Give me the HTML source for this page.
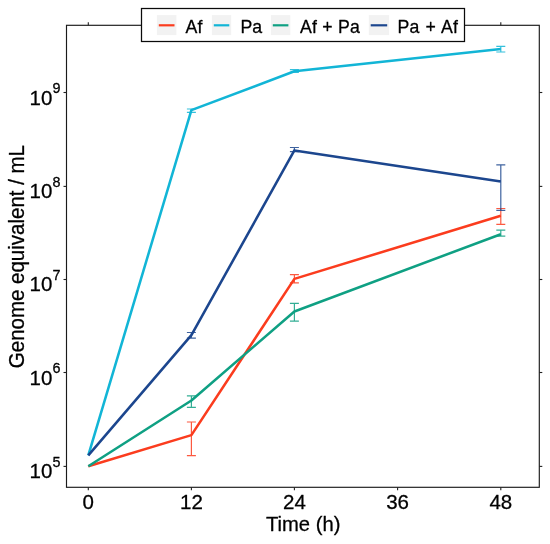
<!DOCTYPE html>
<html><head><meta charset="utf-8"><title>Chart</title>
<style>html,body{margin:0;padding:0;background:#fff}body{width:550px;height:544px;overflow:hidden}</style></head>
<body>
<svg width="550" height="544" viewBox="0 0 550 544" style="display:block">
<rect width="550" height="544" fill="#fff"/>
<rect x="66.5" y="25.3" width="472.8" height="462.0" fill="none" stroke="#1a1a1a" stroke-width="1.15"/>
<g stroke="#222" stroke-width="1.1">
<line x1="88.3" y1="487.3" x2="88.3" y2="490.3"/>
<line x1="88.3" y1="25.3" x2="88.3" y2="22.3"/>
<line x1="191.4" y1="487.3" x2="191.4" y2="490.3"/>
<line x1="191.4" y1="25.3" x2="191.4" y2="22.3"/>
<line x1="294.4" y1="487.3" x2="294.4" y2="490.3"/>
<line x1="294.4" y1="25.3" x2="294.4" y2="22.3"/>
<line x1="397.6" y1="487.3" x2="397.6" y2="490.3"/>
<line x1="397.6" y1="25.3" x2="397.6" y2="22.3"/>
<line x1="500.8" y1="487.3" x2="500.8" y2="490.3"/>
<line x1="500.8" y1="25.3" x2="500.8" y2="22.3"/>
<line x1="66.5" y1="466.4" x2="63.5" y2="466.4"/>
<line x1="539.3" y1="466.4" x2="542.3" y2="466.4"/>
<line x1="66.5" y1="372.5" x2="63.5" y2="372.5"/>
<line x1="539.3" y1="372.5" x2="542.3" y2="372.5"/>
<line x1="66.5" y1="279.5" x2="63.5" y2="279.5"/>
<line x1="539.3" y1="279.5" x2="542.3" y2="279.5"/>
<line x1="66.5" y1="186.4" x2="63.5" y2="186.4"/>
<line x1="539.3" y1="186.4" x2="542.3" y2="186.4"/>
<line x1="66.5" y1="92.5" x2="63.5" y2="92.5"/>
<line x1="539.3" y1="92.5" x2="542.3" y2="92.5"/>
</g>
<g stroke="#FB3C1E" stroke-width="1.2" stroke-opacity="0.85" fill="none">
<path d="M186.9 422.0H195.9M191.4 422.0V455.6M186.9 455.6H195.9"/>
<path d="M289.9 274.6H298.9M294.4 274.6V282.8M289.9 282.8H298.9"/>
<path d="M496.3 208.5H505.3M500.8 208.5V224.4M496.3 224.4H505.3"/>
</g>
<g stroke="#12B5D6" stroke-width="1.2" stroke-opacity="0.85" fill="none">
<path d="M186.9 109.0H195.9M191.4 109.0V112.3M186.9 112.3H195.9"/>
<path d="M289.9 69.6H298.9M294.4 69.6V72.3M289.9 72.3H298.9"/>
<path d="M496.3 46.3H505.3M500.8 46.3V52.0M496.3 52.0H505.3"/>
</g>
<g stroke="#0FA083" stroke-width="1.2" stroke-opacity="0.85" fill="none">
<path d="M186.9 395.8H195.9M191.4 395.8V407.3M186.9 407.3H195.9"/>
<path d="M289.9 303.3H298.9M294.4 303.3V321.2M289.9 321.2H298.9"/>
<path d="M496.3 230.2H505.3M500.8 230.2V236.2M496.3 236.2H505.3"/>
</g>
<g stroke="#1C468E" stroke-width="1.2" stroke-opacity="0.85" fill="none">
<path d="M186.9 332.5H195.9M191.4 332.5V338.2M186.9 338.2H195.9"/>
<path d="M289.9 147.5H298.9M294.4 147.5V151.7M289.9 151.7H298.9"/>
<path d="M496.3 164.8H505.3M500.8 164.8V210.3M496.3 210.3H505.3"/>
</g>
<polyline points="88.3,466.3 191.4,435.1 294.4,278.9 500.8,215.7" fill="none" stroke="#FB3C1E" stroke-width="2.55" stroke-linejoin="round"/>
<polyline points="88.3,455.4 191.4,110.1 294.4,71.3 500.8,49.0" fill="none" stroke="#12B5D6" stroke-width="2.55" stroke-linejoin="round"/>
<polyline points="88.3,466.3 191.4,400.5 294.4,311.5 500.8,234.2" fill="none" stroke="#0FA083" stroke-width="2.55" stroke-linejoin="round"/>
<polyline points="88.3,455.4 191.4,335.2 294.4,150.4 500.8,181.6" fill="none" stroke="#1C468E" stroke-width="2.55" stroke-linejoin="round"/>
<rect x="141.5" y="8.5" width="323.0" height="33.0" fill="#fff" stroke="#0a0a0a" stroke-width="1.25"/>
<rect x="156.9" y="15.1" width="19.5" height="20" fill="#f2f2f2"/>
<line x1="158.8" y1="25.3" x2="174.5" y2="25.3" stroke="#FB3C1E" stroke-width="2.2"/>
<rect x="211.9" y="15.1" width="19.3" height="20" fill="#f2f2f2"/>
<line x1="213.8" y1="25.3" x2="229.3" y2="25.3" stroke="#12B5D6" stroke-width="2.2"/>
<rect x="270.9" y="15.1" width="19.4" height="20" fill="#f2f2f2"/>
<line x1="272.8" y1="25.3" x2="288.4" y2="25.3" stroke="#0FA083" stroke-width="2.2"/>
<rect x="368.8" y="15.1" width="20.3" height="20" fill="#f2f2f2"/>
<line x1="370.7" y1="25.3" x2="387.2" y2="25.3" stroke="#1C468E" stroke-width="2.2"/>
<g font-family="&quot;Liberation Sans&quot;, sans-serif" fill="#000" stroke="#000" stroke-width="0.28" stroke-linejoin="round">
<g font-size="17.7">
<text x="185.4" y="32.7" word-spacing="0" letter-spacing="0.4">Af</text>
<text x="240.6" y="32.7" word-spacing="0" letter-spacing="-0.2">Pa</text>
<text x="300.1" y="32.7" word-spacing="0.3" letter-spacing="0.1">Af + Pa</text>
<text x="397.4" y="32.7" word-spacing="0.8" letter-spacing="0.25">Pa + Af</text>
</g>
<g font-size="20.5" text-anchor="middle">
<text x="88.3" y="509.0">0</text>
<text x="191.4" y="509.0">12</text>
<text x="294.4" y="509.0">24</text>
<text x="397.6" y="509.0">36</text>
<text x="500.8" y="509.0">48</text>
</g>
<text x="29.6" y="478.0" font-size="20.5">10</text>
<text x="52.6" y="466.7" font-size="14.35">5</text>
<text x="29.6" y="384.9" font-size="20.5">10</text>
<text x="52.6" y="373.3" font-size="14.35">6</text>
<text x="29.6" y="291.0" font-size="20.5">10</text>
<text x="52.6" y="279.9" font-size="14.35">7</text>
<text x="29.6" y="198.0" font-size="20.5">10</text>
<text x="52.6" y="187.0" font-size="14.35">8</text>
<text x="29.6" y="104.9" font-size="20.5">10</text>
<text x="52.6" y="93.3" font-size="14.35">9</text>
<text x="303.2" y="531.0" font-size="20.2" text-anchor="middle">Time (h)</text>
<text transform="translate(24.0,256.6) rotate(-90) scale(1,1.05)" font-size="20.5" text-anchor="middle">Genome equivalent / mL</text>
</g>
</svg>
</body></html>
